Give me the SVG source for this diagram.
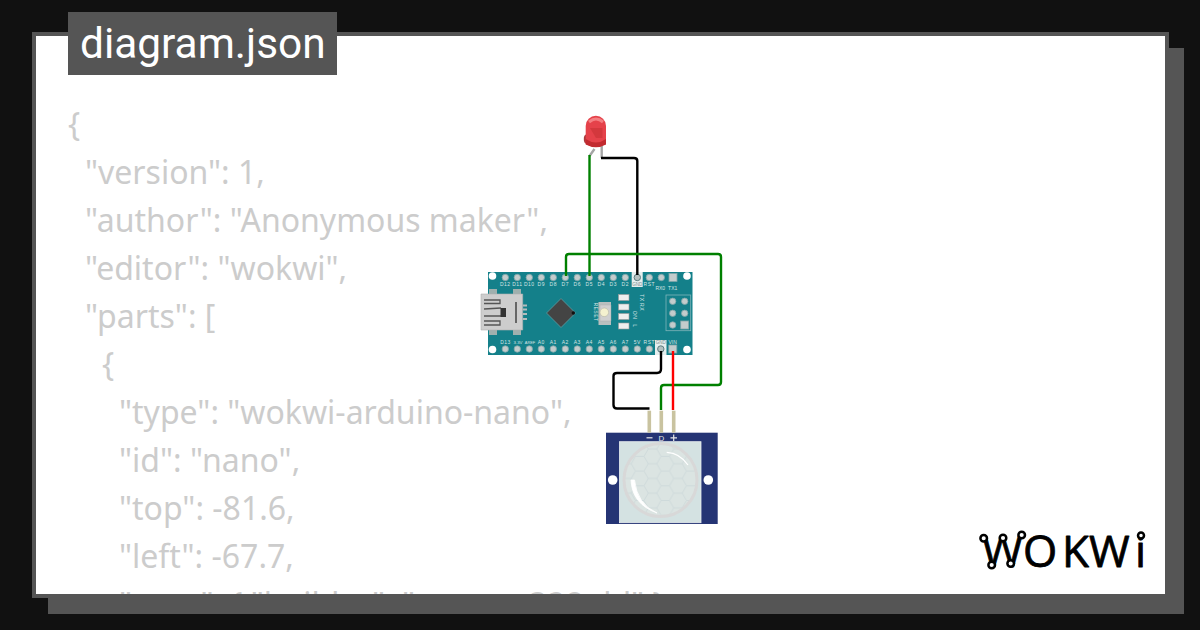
<svg xmlns="http://www.w3.org/2000/svg" width="1200" height="630" viewBox="0 0 1200 630">
<style>
.code{font-family:"Noto Sans","Open Sans",sans-serif;font-size:32px;fill:#ccc}
.pin{fill:#c3cccc;stroke:#7fa5a8;stroke-width:.8}
.lb{font-family:"Liberation Sans",sans-serif;font-size:5px;letter-spacing:.5px;fill:#d5e4e4;text-anchor:middle}
.led{fill:#eee;stroke:#999;stroke-width:.6}
.w{fill:none;stroke-width:2.4;stroke-linejoin:round}
</style>
<defs><clipPath id="c"><rect x="36" y="36" width="1129" height="558"/></clipPath>
<pattern id="hex" width="25.500" height="14.720" patternUnits="userSpaceOnUse" x="644" y="449">
<path d="M0 7.360L4.250 0H12.750L17 7.360L12.750 14.720H4.250ZM17 7.360H25.500" fill="none" stroke="#cbd8d9" stroke-width=".8"/>
</pattern></defs>
<rect width="1200" height="630" fill="#111"/>
<rect x="48" y="48" width="1136" height="566" fill="#555"/>
<rect x="34" y="34" width="1133" height="562" fill="#fff" stroke="#555" stroke-width="4"/>
<g id="code" clip-path="url(#c)">
<text class="code" x="68" y="136">{</text>
<text class="code" x="85" y="184">"version": 1,</text>
<text class="code" x="85" y="232">"author": "Anonymous maker",</text>
<text class="code" x="85" y="280">"editor": "wokwi",</text>
<text class="code" x="85" y="328">"parts": [</text>
<text class="code" x="102" y="376">{</text>
<text class="code" x="119" y="424">"type": "wokwi-arduino-nano",</text>
<text class="code" x="119" y="472">"id": "nano",</text>
<text class="code" x="119" y="520">"top": -81.6,</text>
<text class="code" x="119" y="568">"left": -67.7,</text>
<text class="code" x="119" y="616">"attrs": { "builder": "atmega328old" }</text>
</g>
<g id="tab"><rect x="68" y="12" width="269" height="63" fill="#555"/>
<text x="80" y="58" font-family="Roboto,'Liberation Sans',sans-serif" font-size="42.400" fill="#fff">diagram.json</text></g>
<g id="nano">
<rect x="488" y="272" width="204.500" height="83" fill="#14808a"/>
<circle cx="492.500" cy="276" r="3.800" fill="#fff"/><circle cx="687" cy="276" r="3.800" fill="#fff"/>
<circle cx="492.500" cy="349.500" r="3.800" fill="#fff"/><circle cx="687" cy="349.500" r="3.800" fill="#fff"/>
<rect x="631.700" y="272" width="11" height="15" fill="#e6eeee"/>
<rect x="655" y="340" width="11.500" height="15" fill="#e6eeee"/>
<g id="pins-top">
<circle class="pin" cx="505.300" cy="277.500" r="3.200"/><circle class="pin" cx="517.300" cy="277.500" r="3.200"/><circle class="pin" cx="529.300" cy="277.500" r="3.200"/><circle class="pin" cx="541.300" cy="277.500" r="3.200"/><circle class="pin" cx="553.300" cy="277.500" r="3.200"/><circle class="pin" cx="565.300" cy="277.500" r="3.200"/><circle class="pin" cx="577.300" cy="277.500" r="3.200"/><circle class="pin" cx="589.300" cy="277.500" r="3.200"/><circle class="pin" cx="601.300" cy="277.500" r="3.200"/><circle class="pin" cx="613.300" cy="277.500" r="3.200"/><circle class="pin" cx="625.300" cy="277.500" r="3.200"/><circle cx="637.300" cy="277.500" r="3.200" fill="#b5c0c0" stroke="#5f7f82"/><circle class="pin" cx="649.300" cy="277.500" r="3.200"/><circle class="pin" cx="661.300" cy="277.500" r="3.200"/>
<rect class="pin" x="669" y="273.500" width="8" height="8"/>
</g>
<g id="pins-bottom">
<circle class="pin" cx="505.300" cy="349" r="3.200"/><circle class="pin" cx="517.300" cy="349" r="3.200"/><circle class="pin" cx="529.300" cy="349" r="3.200"/><circle class="pin" cx="541.300" cy="349" r="3.200"/><circle class="pin" cx="553.300" cy="349" r="3.200"/><circle class="pin" cx="565.300" cy="349" r="3.200"/><circle class="pin" cx="577.300" cy="349" r="3.200"/><circle class="pin" cx="589.300" cy="349" r="3.200"/><circle class="pin" cx="601.300" cy="349" r="3.200"/><circle class="pin" cx="613.300" cy="349" r="3.200"/><circle class="pin" cx="625.300" cy="349" r="3.200"/><circle class="pin" cx="637.300" cy="349" r="3.200"/><circle class="pin" cx="649.300" cy="349" r="3.200"/><circle cx="660.800" cy="349" r="3.200" fill="#b5c0c0" stroke="#5f7f82"/>
<rect class="pin" x="668.800" y="345" width="8" height="8" stroke="#e0e8e8"/>
</g>
<g id="labels-top">
<text class="lb" x="505.300" y="285.800">D12</text><text class="lb" x="517.300" y="285.800">D11</text><text class="lb" x="529.300" y="285.800">D10</text><text class="lb" x="541.300" y="285.800">D9</text><text class="lb" x="553.300" y="285.800">D8</text><text class="lb" x="565.300" y="285.800">D7</text><text class="lb" x="577.300" y="285.800">D6</text><text class="lb" x="589.300" y="285.800">D5</text><text class="lb" x="601.300" y="285.800">D4</text><text class="lb" x="613.300" y="285.800">D3</text><text class="lb" x="625.300" y="285.800">D2</text><text class="lb" x="637.300" y="285.800" style="fill:#7f8f90;letter-spacing:0;font-size:4.600px">GND</text><text class="lb" x="649.300" y="285.800">RST</text><text class="lb" x="660.300" y="290" style="letter-spacing:0">RX0</text><text class="lb" x="672.700" y="290" style="letter-spacing:0">TX1</text>
</g>
<g id="labels-bottom">
<text class="lb" x="505.500" y="344">D13</text><text class="lb" x="518" y="344" style="font-size:4.400px;letter-spacing:0">3.3V</text><text class="lb" x="530" y="344" style="font-size:3.900px;letter-spacing:0">AREF</text><text class="lb" x="541.300" y="344">A0</text><text class="lb" x="553.300" y="344">A1</text><text class="lb" x="565.300" y="344">A2</text><text class="lb" x="577.300" y="344">A3</text><text class="lb" x="589.300" y="344">A4</text><text class="lb" x="601.300" y="344">A5</text><text class="lb" x="613.300" y="344">A6</text><text class="lb" x="625.300" y="344">A7</text><text class="lb" x="637.300" y="344">5V</text><text class="lb" x="649.300" y="344">RST</text><text class="lb" x="660.800" y="344" style="fill:#7f8f90;letter-spacing:0;font-size:4.600px">GND</text><text class="lb" x="672.700" y="344" style="letter-spacing:0">VIN</text>
</g>
<g id="usb">
<rect x="489" y="289" width="8" height="6" fill="#9fb0ae"/><rect x="513" y="289" width="8" height="6" fill="#9fb0ae"/>
<rect x="489" y="330" width="8" height="5" fill="#9fb0ae"/><rect x="513" y="330" width="8" height="5" fill="#9fb0ae"/>
<path d="M481 294H522.700V330H481Z" fill="#cdcdcd" stroke="#b0b0b0" stroke-width=".6"/>
<path d="M523 305.500h4M523 309.500h4M523 314h4M523 319h4" stroke="#b5bcbc" stroke-width="1.800"/>
<path d="M484 300H500V303.500H484M484 309L501 308M484 316L501 316M484 321H500V325H484" fill="none" stroke="#555" stroke-width="1.300"/>
<rect x="500.500" y="308" width="5.500" height="9" fill="#333"/>
<path d="M516 302V323" stroke="#666" stroke-width="2"/>
</g>
<path id="chip" d="M561 298.500L575.500 313L561 327.500L546.500 313Z" fill="#444" stroke="#5f9ca2" stroke-width=".8"/>
<circle cx="573.300" cy="313" r="1.700" fill="#111"/>
<g id="reset">
<rect x="598.500" y="302" width="12.500" height="23" fill="#b9bfbf"/>
<rect x="600" y="305" width="11" height="16" fill="#cfcfcf" stroke="#aaa" stroke-width=".4"/>
<circle cx="604.300" cy="312.300" r="4.300" fill="#f4f1cf" stroke="#b5b5a5" stroke-width=".6"/>
<text class="lb" transform="translate(594,312) rotate(90)">RESET</text>
</g>
<g id="leds">
<rect class="led" x="618.500" y="294.500" width="10.500" height="6"/><rect class="led" x="618.500" y="304" width="10.500" height="6"/><rect class="led" x="618.500" y="313.500" width="10.500" height="6"/><rect class="led" x="618.500" y="323" width="10.500" height="6"/>
<text class="lb" transform="translate(639.500,298) rotate(90)">TX</text><text class="lb" transform="translate(639.500,307) rotate(90)">RX</text><text class="lb" transform="translate(632.500,315) rotate(90)">ON</text><text class="lb" transform="translate(632.500,326) rotate(90)">L</text>
</g>
<g id="icsp">
<rect x="666" y="295" width="24.700" height="35.700" fill="none" stroke="#7fb4b9" stroke-width=".8"/>
<circle class="pin" cx="672.700" cy="301.300" r="3.200"/><circle class="pin" cx="684.700" cy="301.300" r="3.200"/><circle class="pin" cx="672.700" cy="313.300" r="3.200"/><circle class="pin" cx="684.700" cy="313.300" r="3.200"/><circle class="pin" cx="672.700" cy="325" r="3.200"/><rect class="pin" x="680.700" y="321" width="8" height="8"/>
</g>
</g>
<g id="led1">
<path d="M601.700 146V158M594.500 149L589.500 156" fill="none" stroke="#a5a5a5" stroke-width="2.400"/>
<ellipse cx="586.500" cy="139" rx="2.700" ry="4.500" fill="#a93a3c"/>
<path d="M585.700 126A10.150 10.150 0 0 1 606 126V144Q596 150 585.700 144Z" fill="#e5424a"/>
<path d="M585.700 139Q596 146 606 139V144.500Q596 150 585.700 144.500Z" fill="#c22a2f"/>
<path d="M590 128H602.500V138L596 138Z" fill="#d3383d"/>
<path d="M589 122Q596 116 603 122" fill="none" stroke="#f47f82" stroke-width="3"/>
</g>
<g id="pir">
<rect x="606" y="432.700" width="111.700" height="91.300" fill="#253474"/>
<rect x="647.500" y="410.700" width="3.600" height="22" fill="#c9c3a0"/><rect x="659.500" y="410.700" width="3.600" height="22" fill="#c9c3a0"/><rect x="671.900" y="410.700" width="3.600" height="22" fill="#c9c3a0"/>
<circle cx="612.700" cy="480" r="4.800" fill="#fff"/><circle cx="708.300" cy="480" r="4.800" fill="#fff"/>
<path d="M646.500 437.800H652.500" stroke="#e8e8e8" stroke-width="1.200"/>
<text x="661.500" y="441" font-family="'Liberation Sans',sans-serif" font-size="8" fill="#e4e4e4" text-anchor="middle">D</text>
<path d="M670.500 437.800H677M673.700 434.500V441" stroke="#e8e8e8" stroke-width="1.200"/>
<rect x="619.500" y="441.700" width="81.500" height="81" fill="#d4e2e2" stroke="#e9eef0" stroke-width=".8"/>
<circle cx="660.500" cy="480" r="36.500" fill="#dbe4e2"/>
<circle cx="660.500" cy="480" r="36.500" fill="url(#hex)" stroke="#d8d8d8" stroke-width="3"/>
<path d="M631 480Q632 504 657 513Q637 504 634.500 480Z" fill="#fff" stroke="#fff" stroke-width=".8"/>
<path d="M666.700 452.300Q680 453 688 465" fill="none" stroke="#fff" stroke-width="1.200"/>
</g>
<g id="wires">
<path class="w" stroke="#000" d="M601 158H634Q637.300 158 637.300 161V275"/>
<path class="w" stroke="#008000" d="M589.500 155V276"/>
<path class="w" stroke="#008000" d="M566 276V257Q566 254 569 254H718Q721 254 721 257V382Q721 385 718 385H664Q661 385 661 388V410"/>
<path class="w" stroke="#000" d="M661 351V369Q661 373 657 373H617Q613.500 373 613.500 376V405Q613.500 408.500 617 408.500H649.500"/>
<path class="w" stroke="#f00" d="M673 351V410"/>
</g>
<g id="logo">
<text y="566.500" x="982 1023 1062 1089 1135" font-family="'Open Sans','DejaVu Sans',sans-serif" font-size="44" fill="#000" stroke="#000" stroke-width=".8" stroke-linejoin="round">WOKWi</text>
<g fill="#fff" stroke="#000" stroke-width="2.500">
<circle cx="983.700" cy="538.300" r="3.300"/><circle cx="1003" cy="538" r="3.300"/><circle cx="1021.700" cy="535" r="3.300"/><circle cx="991.700" cy="565" r="3.300"/><circle cx="1010.700" cy="563.500" r="3.300"/><circle cx="1141" cy="535.500" r="3"/>
</g>
</g>
</svg>
